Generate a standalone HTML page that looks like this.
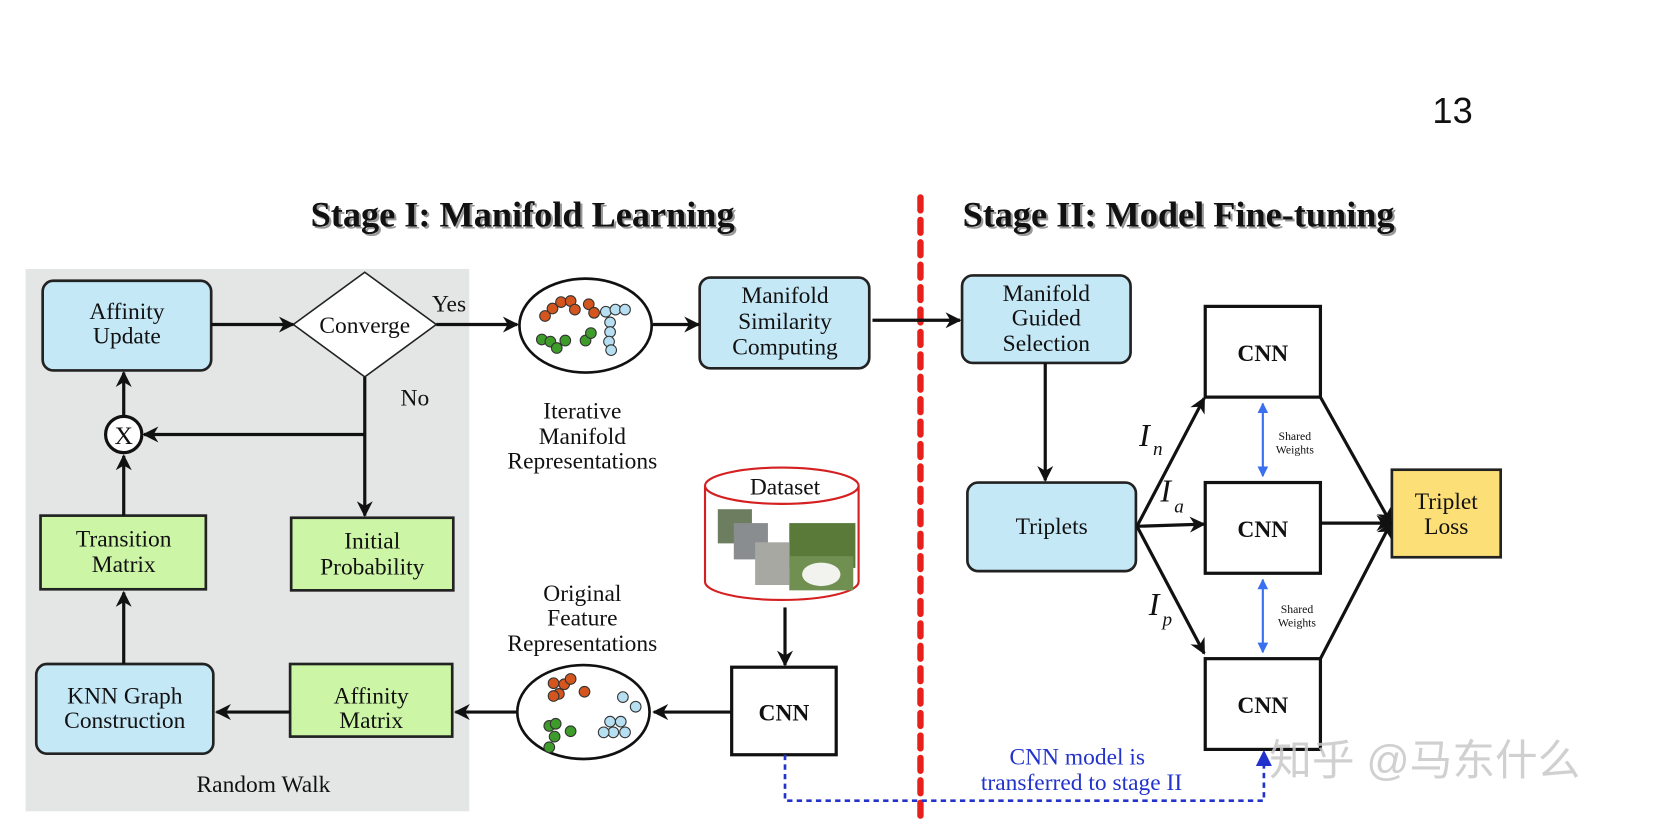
<!DOCTYPE html>
<html><head><meta charset="utf-8"><style>
html,body{margin:0;padding:0;background:#fff;}
svg{display:block;}
text{font-family:"Liberation Serif","DejaVu Serif",serif;fill:#111;}
</style></head><body>
<svg width="1666" height="822" viewBox="0 0 1562 770" preserveAspectRatio="none" xmlns="http://www.w3.org/2000/svg">
<defs>
<marker id="a" viewBox="0 0 10 10" refX="9" refY="5" markerWidth="5" markerHeight="5" orient="auto"><path d="M0,0 L10,5 L0,10 L3,5 z" fill="#111"/></marker>
<marker id="b" viewBox="0 0 10 10" refX="9" refY="5" markerWidth="5" markerHeight="5" orient="auto"><path d="M0,0 L10,5 L0,10 z" fill="#3a6ff0"/></marker>
<marker id="bs" viewBox="0 0 10 10" refX="1" refY="5" markerWidth="5" markerHeight="5" orient="auto"><path d="M10,0 L0,5 L10,10 z" fill="#3a6ff0"/></marker>
<marker id="d" viewBox="0 0 10 10" refX="9" refY="5" markerWidth="6" markerHeight="6" orient="auto"><path d="M0,0 L10,5 L0,10 z" fill="#2233cc"/></marker>
</defs>
<text x="1343" y="115" font-size="34" style="font-family:'Liberation Sans',sans-serif">13</text>
<g font-weight="bold" font-size="34" text-anchor="middle">
<text x="492" y="214" fill="#999" style="fill:#999">Stage I: Manifold Learning</text>
<text x="490" y="212">Stage I: Manifold Learning</text>
<text x="1107" y="214" style="fill:#999">Stage II: Model Fine-tuning</text>
<text x="1105" y="212">Stage II: Model Fine-tuning</text>
</g>
<rect x="24" y="252" width="416" height="508" fill="#e4e6e6"/>
<line x1="863" y1="185" x2="863" y2="770" stroke="#e8201c" stroke-width="6" stroke-dasharray="12,9" stroke-linecap="round"/>
<g stroke="#222" stroke-width="2.5">
<rect x="40" y="263" width="158" height="84" rx="10" fill="#c5e8f7"/>
<rect x="656" y="260" width="159" height="85" rx="10" fill="#c5e8f7"/>
<rect x="902" y="258" width="158" height="82" rx="10" fill="#c5e8f7"/>
<rect x="34" y="622" width="166" height="84" rx="10" fill="#c5e8f7"/>
<rect x="907" y="452" width="158" height="83" rx="10" fill="#c5e8f7"/>
<rect x="38" y="483" width="155" height="69" fill="#ccf5a6"/>
<rect x="273" y="485" width="152" height="68" fill="#ccf5a6"/>
<rect x="272" y="622" width="152" height="68" fill="#ccf5a6"/>
<rect x="1305" y="440" width="102" height="82" fill="#fcdf77"/>
</g>
<g stroke="#111" stroke-width="3" fill="#fff">
<rect x="686" y="625" width="98" height="82"/>
<rect x="1130" y="287" width="108" height="85"/>
<rect x="1130" y="452" width="108" height="85"/>
<rect x="1130" y="617" width="108" height="85"/>
</g>
<path d="M342,255 L409,304 L342,353 L275,304 z" fill="#fff" stroke="#222" stroke-width="1.5"/>
<g stroke="#111" stroke-width="3" fill="none" marker-end="url(#a)">
<line x1="198" y1="304" x2="275" y2="304"/>
<line x1="409" y1="304" x2="485" y2="304"/>
<line x1="612" y1="304" x2="655" y2="304"/>
<line x1="818" y1="300" x2="900" y2="300"/>
<line x1="342" y1="353" x2="342" y2="483"/>
<line x1="342" y1="407" x2="135" y2="407"/>
<line x1="116" y1="389" x2="116" y2="349"/>
<line x1="116" y1="483" x2="116" y2="427"/>
<line x1="116" y1="622" x2="116" y2="555"/>
<line x1="272" y1="667" x2="203" y2="667"/>
<line x1="685" y1="667" x2="613" y2="667"/>
<line x1="484" y1="667" x2="427" y2="667"/>
<line x1="736" y1="569" x2="736" y2="623"/>
<line x1="980" y1="340" x2="980" y2="450"/>
<line x1="1066" y1="493" x2="1129" y2="373"/>
<line x1="1066" y1="493" x2="1129" y2="491"/>
<line x1="1066" y1="493" x2="1129" y2="612"/>
<line x1="1238" y1="490" x2="1304" y2="490"/>
<line x1="1238" y1="372" x2="1304" y2="490"/>
<line x1="1238" y1="617" x2="1304" y2="490"/>
</g>
<circle cx="116" cy="407" r="17" fill="#fff" stroke="#111" stroke-width="3"/>
<text x="116" y="416" font-size="24" text-anchor="middle">X</text>
<g stroke="#3a6ff0" stroke-width="2">
<line x1="1184" y1="378" x2="1184" y2="446" marker-end="url(#b)" marker-start="url(#bs)"/>
<line x1="1184" y1="543" x2="1184" y2="611" marker-end="url(#b)" marker-start="url(#bs)"/>
</g>
<polyline points="736,707 736,750 1185,750 1185,704" fill="none" stroke="#2233cc" stroke-width="2.5" stroke-dasharray="5,4" marker-end="url(#d)"/>
<g stroke="#111" stroke-width="2.5" fill="#fff">
<ellipse cx="549" cy="305" rx="62" ry="44"/>
<ellipse cx="547" cy="667" rx="62" ry="44"/>
</g>
<g stroke="#333" stroke-width="1">
<g fill="#d4561e"><circle cx="511" cy="296" r="5"/><circle cx="518" cy="289" r="5"/><circle cx="526" cy="283" r="5"/><circle cx="535" cy="282" r="5"/><circle cx="539" cy="290" r="5"/><circle cx="552" cy="285" r="5"/><circle cx="557" cy="293" r="5"/>
<circle cx="519" cy="640" r="5"/><circle cx="529" cy="641" r="5"/><circle cx="524" cy="650" r="5"/><circle cx="535" cy="636" r="5"/><circle cx="548" cy="648" r="5"/><circle cx="519" cy="652" r="5"/></g>
<g fill="#3e9c2a"><circle cx="508" cy="318" r="5"/><circle cx="516" cy="320" r="5"/><circle cx="522" cy="326" r="5"/><circle cx="530" cy="319" r="5"/><circle cx="549" cy="319" r="5"/><circle cx="554" cy="312" r="5"/>
<circle cx="515" cy="680" r="5"/><circle cx="520" cy="690" r="5"/><circle cx="515" cy="700" r="5"/><circle cx="521" cy="678" r="5"/><circle cx="535" cy="685" r="5"/></g>
<g fill="#b7dff2"><circle cx="568" cy="292" r="5"/><circle cx="577" cy="290" r="5"/><circle cx="586" cy="290" r="5"/><circle cx="572" cy="302" r="5"/><circle cx="572" cy="311" r="5"/><circle cx="571" cy="320" r="5"/><circle cx="573" cy="328" r="5"/>
<circle cx="584" cy="653" r="5"/><circle cx="596" cy="662" r="5"/><circle cx="572" cy="676" r="5"/><circle cx="582" cy="676" r="5"/><circle cx="575" cy="686" r="5"/><circle cx="586" cy="686" r="5"/><circle cx="566" cy="686" r="5"/></g>
</g>
<path d="M661,455 L661,545 A72,17 0 0 0 805,545 L805,455" fill="#fff" stroke="#d42020" stroke-width="2"/>
<ellipse cx="733" cy="455" rx="72" ry="17" fill="#fff" stroke="#d42020" stroke-width="2"/>
<rect x="673" y="477" width="32" height="32" fill="#6d7d60"/>
<rect x="688" y="490" width="32" height="34" fill="#8a8d90"/>
<rect x="740" y="490" width="62" height="42" fill="#5a7a3a"/>
<rect x="708" y="508" width="32" height="40" fill="#a8a8a2"/>
<rect x="740" y="521" width="60" height="32" fill="#6f9050"/>
<ellipse cx="770" cy="538" rx="18" ry="11" fill="#f2f2ee"/>
<g font-size="22" text-anchor="middle">
<text x="119" y="299">Affinity</text><text x="119" y="322">Update</text>
<text x="342" y="312">Converge</text>
<text x="421" y="292">Yes</text><text x="389" y="380">No</text>
<text x="736" y="284">Manifold</text><text x="736" y="308">Similarity</text><text x="736" y="332">Computing</text>
<text x="981" y="282">Manifold</text><text x="981" y="305">Guided</text><text x="981" y="329">Selection</text>
<text x="546" y="392">Iterative</text><text x="546" y="416">Manifold</text><text x="546" y="439">Representations</text>
<text x="116" y="512">Transition</text><text x="116" y="536">Matrix</text>
<text x="349" y="514">Initial</text><text x="349" y="538">Probability</text>
<text x="117" y="659">KNN Graph</text><text x="117" y="682">Construction</text>
<text x="348" y="659">Affinity</text><text x="348" y="682">Matrix</text>
<text x="247" y="742">Random Walk</text>
<text x="546" y="563">Original</text><text x="546" y="586">Feature</text><text x="546" y="610">Representations</text>
<text x="736" y="463">Dataset</text>
<text x="986" y="500">Triplets</text>
<text x="1356" y="477">Triplet</text><text x="1356" y="500">Loss</text>
<text x="1010" y="716" style="fill:#2233cc">CNN model is</text>
<text x="1014" y="740" style="fill:#2233cc">transferred to stage II</text>
</g>
<g font-size="22" font-weight="bold" text-anchor="middle">
<text x="735" y="675">CNN</text><text x="1184" y="338">CNN</text><text x="1184" y="503">CNN</text><text x="1184" y="668">CNN</text>
</g>
<g font-size="11" text-anchor="middle">
<text x="1214" y="412">Shared</text><text x="1214" y="425">Weights</text>
<text x="1216" y="574">Shared</text><text x="1216" y="587">Weights</text>
</g>
<g font-style="italic">
<text x="1068" y="418" font-size="30">I</text><text x="1081" y="426" font-size="18">n</text>
<text x="1088" y="470" font-size="30">I</text><text x="1101" y="480" font-size="18">a</text>
<text x="1077" y="576" font-size="30">I</text><text x="1090" y="586" font-size="18">p</text>
</g>
<text x="1190" y="726" font-size="40" style="fill:#c8c8c8;font-family:'Liberation Sans','Noto Sans CJK SC',sans-serif;opacity:0.85">知乎 @马东什么</text>
</svg>
</body></html>
